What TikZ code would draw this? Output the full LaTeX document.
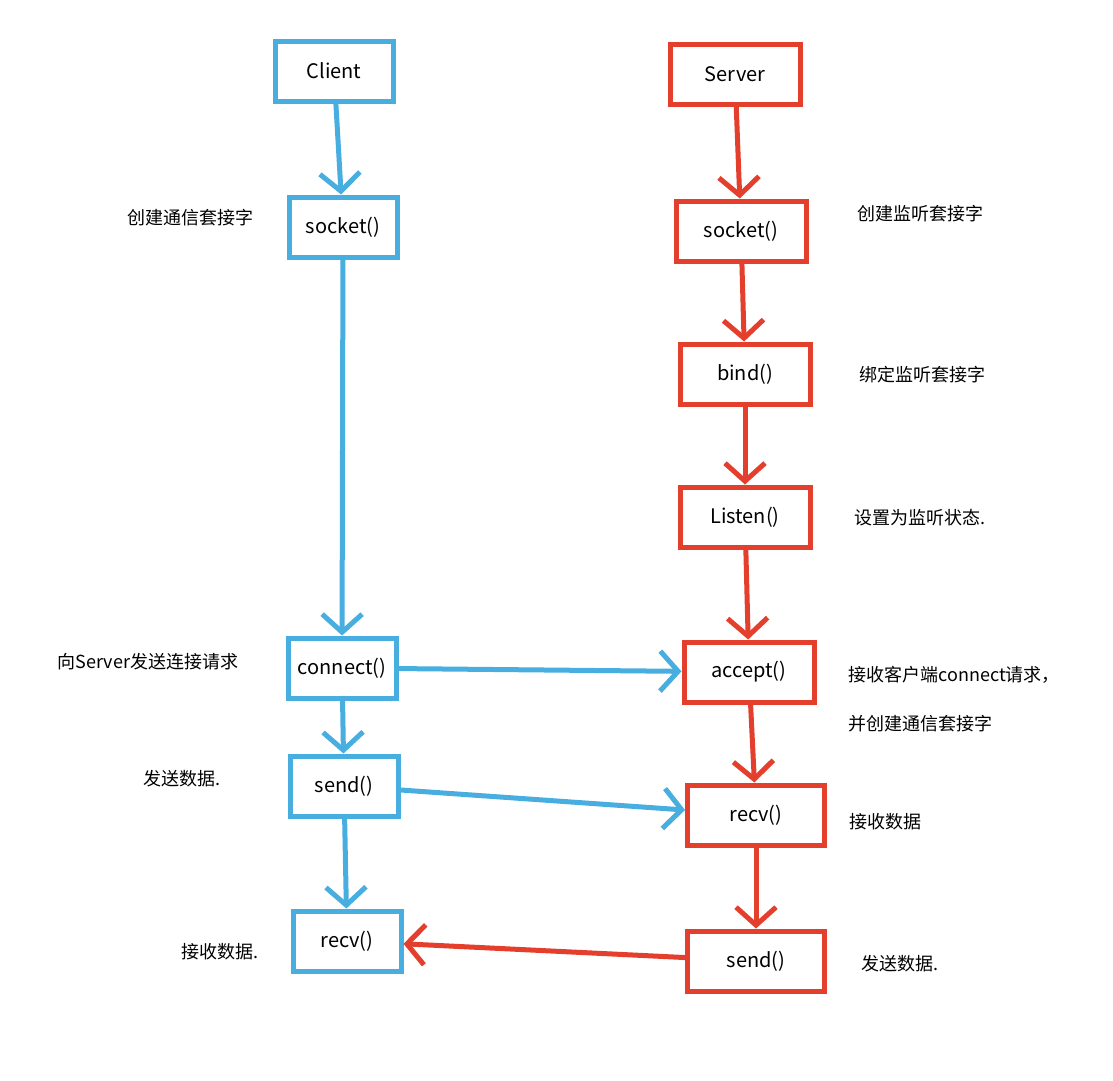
\documentclass[tikz,border=0pt]{standalone}
\usepackage{fontspec}
\setmainfont{Noto Sans CJK SC}
\usetikzlibrary{arrows.meta}
\definecolor{cb}{RGB}{72,174,224}
\definecolor{cr}{RGB}{228,62,44}
\begin{document}
\begin{tikzpicture}[x=1pt,y=-1pt,
  box/.style={draw,line width=5pt,minimum width=#1,minimum height=60pt,font=\fontsize{20}{24}\selectfont,inner sep=0pt,text=black},
  cbox/.style={box=108pt,draw=cb},
  rbox/.style={box=130pt,draw=cr},
  ar/.style={line width=5pt,-{Straight Barb[length=18pt,width=40pt,line width=5pt]}},
  lab/.style={font=\fontsize{18}{22}\selectfont,anchor=center}]
\useasboundingbox (0,0) rectangle (1113,1080);
\node[cbox,minimum width=118pt] (client) at (334,71) {Client};
\node[cbox] (csock) at (343,227) {socket()};
\node[cbox] (conn) at (342,668) {connect()};
\node[cbox] (csend) at (344,786) {send()};
\node[cbox] (crecv) at (347,941) {recv()};
\node[rbox] (server) at (735,74) {Server};
\node[rbox] (ssock) at (741,231) {socket()};
\node[rbox] (bind) at (745,374) {bind()};
\node[rbox] (listen) at (745,517) {Listen()};
\node[rbox] (accept) at (749,672) {accept()};
\node[rbox,minimum width=137pt] (srecv) at (756,815) {recv()};
\node[rbox,minimum width=137pt] (ssend) at (756,961) {send()};
\draw[ar,cb] (client) -- (csock);
\draw[ar,cb] (csock) -- (conn);
\draw[ar,cb] (conn) -- (csend);
\draw[ar,cb] (csend) -- (crecv);
\draw[ar,cb] (conn) -- (accept);
\draw[ar,cb] (csend) -- (srecv);
\draw[ar,cr] (server) -- (ssock);
\draw[ar,cr] (ssock) -- (bind);
\draw[ar,cr] (bind) -- (listen);
\draw[ar,cr] (listen) -- (accept);
\draw[ar,cr] (accept) -- (srecv);
\draw[ar,cr] (srecv) -- (ssend);
\draw[ar,cr] (ssend) -- (crecv);
\node[lab] (l1) at (190,218) {创建通信套接字};
\node[lab] (l2) at (920,214) {创建监听套接字};
\node[lab] (l3) at (922,375) {绑定监听套接字};
\node[lab] (l4) at (920,518) {设置为监听状态.};
\node[lab] (l5) at (148,662) {向Server发送连接请求};
\node[lab,anchor=west] (l6) at (845,675) {接收客户端connect请求，};
\node[lab,anchor=west] (l7) at (845,724) {并创建通信套接字};
\node[lab] (l8) at (182,779) {发送数据.};
\node[lab] (l9) at (885,822) {接收数据};
\node[lab] (l10) at (220,952) {接收数据.};
\node[lab] (l11) at (900,964) {发送数据.};
\end{tikzpicture}
\end{document}
